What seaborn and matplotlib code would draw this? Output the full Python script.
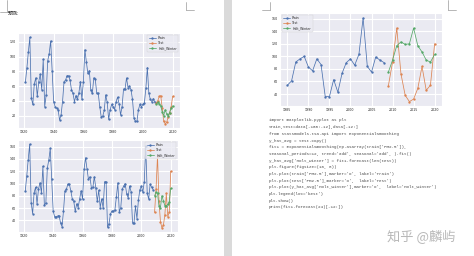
import matplotlib
matplotlib.use("Agg")
import matplotlib.pyplot as plt
import seaborn as sns
from matplotlib.lines import Line2D
from matplotlib.patches import Rectangle

# ---------------- data ----------------
years_full = list(range(1921, 2021))
years_train = years_full[:88]
years_test = years_full[88:]

top_train = [65, 84, 106, 126, 44, 35, 63, 71, 46, 66,
             76, 55, 96, 32, 48, 94, 104, 121, 81, 39,
             32, 30, 28, 14, 21, 39, 66, 68, 74, 74,
             68, 55, 50, 39, 47, 42, 51, 66, 42, 66,
             109, 93, 77, 81, 54, 50, 71, 69, 50, 50,
             32, 18, 19, 27, 48, 38, 15, 28, 35, 32,
             28, 39, 45, 36, 21, 32, 56, 56, 71, 58,
             60, 55, 42, 17, 12, 12, 28, 35, 32, 35,
             37, 57, 85, 50, 42, 39, 43, 38]
top_test = [37, 40, 46, 47, 30, 12, 9, 11, 18, 24, 32, 46]
top_hw = [35, 38, 36, 33, 25, 20, 28, 22, 20, 24, 30, 33]

bot_train = [88, 112, 139, 164, 69, 51, 85, 94, 67, 91,
             101, 85, 128, 65, 68, 125, 138, 157, 107, 55,
             46, 46, 47, 48, 36, 30, 55, 88, 91, 99,
             99, 88, 75, 71, 55, 67, 61, 75, 88, 75,
             123, 142, 124, 107, 111, 93, 94, 111, 93, 71,
             89, 61, 75, 60, 103, 103, 29, 35, 51, 55,
             55, 57, 78, 101,
             54, 61, 91, 96, 100, 83, 77, 96, 87, 36,
             36, 63, 43, 73, 90, 96, 86, 103, 161, 84,
             75, 99, 94, 90]
bot_test = [53, 91, 145, 72, 38, 28, 32, 49, 84, 46, 54, 120]
bot_hw = [80, 86, 84, 64, 61, 80, 72, 64, 64, 66, 70, 92]

zoom_years_train = years_full[64:88]
zoom_train = bot_train[64:88]
zoom_test = bot_test
zoom_hw = [75, 94, 117, 123, 119, 120, 145, 117, 107, 94, 91, 103]

series_labels = ["Train", "Test", "Holt_Winter"]
left_xticks = [1920, 1940, 1960, 1980, 2000, 2020]
right_xticks = [1985, 1990, 1995, 2000, 2005, 2010, 2015, 2020]
top_yticks = [20, 40, 60, 80, 100, 120]
bot_yticks = [40, 60, 80, 100, 120, 140, 160]
right_yticks = [40, 60, 80, 100, 120, 140, 160]

code_lines = [
    "import matplotlib.pyplot as plt",
    "train,test=data[-100:-12],data[-12:]",
    "from statsmodels.tsa.api import ExponentialSmoothing",
    "y_hat_avg = test.copy()",
    "fit1 = ExponentialSmoothing(np.asarray(train['PM2.5']),",
    "seasonal_periods=12, trend='add', seasonal='add', ).fit()",
    "y_hat_avg['Holt_Winter'] = fit1.forecast(len(test))",
    "plt.figure(figsize=(16, 8))",
    "plt.plot(train['PM2.5'],marker='o', label='Train')",
    "plt.plot(test['PM2.5'],marker='o',  label='Test')",
    "plt.plot(y_hat_avg['Holt_Winter'],marker='o',  label='Holt_Winter')",
    "plt.legend(loc='best')",
    "plt.show()",
    "print(fit1.forecast(24)[-12:])",
]

# ---------------- style ----------------
sns.set_style("darkgrid", {"grid.linewidth": 0.45})
plt.rcParams["font.family"] = ["DejaVu Sans", "Noto Sans CJK SC"]

W, H = 474, 256
fig = plt.figure(figsize=(W / 100, H / 100), dpi=100)
fig.patch.set_facecolor("white")


def ax_at(x0, y0, x1, y1):
    return fig.add_axes([x0 / W, 1 - y1 / H, (x1 - x0) / W, (y1 - y0) / H])


pal = sns.color_palette("deep")


def draw(ax, xtr, tr, xte, te, hw, loc, xticks, yticks):
    for xs, ys, lab, c in [(xtr, tr, series_labels[0], pal[0]),
                           (xte, te, series_labels[1], pal[1]),
                           (xte, hw, series_labels[2], pal[2])]:
        sns.lineplot(x=xs, y=ys, ax=ax, color=c, marker="o", markersize=1.7,
                     markeredgewidth=0, linewidth=0.55, label=lab)
    ax.set_xticks(xticks)
    ax.set_yticks(yticks)
    ax.tick_params(labelsize=2.3, pad=1.2, length=0)
    leg = ax.legend(loc=loc, fontsize=2.3, frameon=True, borderpad=0.5,
                    labelspacing=0.35, handlelength=2.2, handletextpad=0.7,
                    framealpha=0.8)
    leg.get_frame().set_linewidth(0.3)
    ax.set_xlabel("")
    ax.set_ylabel("")


ax1 = ax_at(18, 33, 180, 128)
draw(ax1, years_train, top_train, years_test, top_test, top_hw,
     "upper right", left_xticks, top_yticks)

ax2 = ax_at(18, 140, 178, 232)
draw(ax2, years_train, bot_train, years_test, bot_test, bot_hw,
     "upper right", left_xticks, bot_yticks)

ax3 = ax_at(280, 13, 442, 106)
draw(ax3, zoom_years_train, zoom_train, years_test, zoom_test, zoom_hw,
     "upper left", right_xticks, right_yticks)
ax3.set_ylim(21, 169)

# ---------------- page decoration ----------------
fig.add_artist(Rectangle((224 / W, 0), 8 / W, 1, transform=fig.transFigure,
                         facecolor="#dadada", edgecolor="none"))


def fline(xs, ys, c="#9a9a9a", lw=0.5):
    fig.add_artist(Line2D([x / W for x in xs], [1 - y / H for y in ys],
                          transform=fig.transFigure, color=c, lw=lw))


# corner marks
fline([7, 7], [0, 12]); fline([0, 7], [12, 12])
fline([186, 186], [2, 10]); fline([186, 194], [10, 10])
fline([270, 270], [2, 10]); fline([262, 270], [10, 10])
fline([448, 448], [0, 10]); fline([448, 456], [10, 10])

fig.text(8 / W, 1 - 13.5 / H, "预测:", fontsize=3.6, color="#222222",
         family=["Noto Sans CJK SC", "DejaVu Sans"], va="center", ha="left")

for i, line in enumerate(code_lines):
    fig.text(269 / W, 1 - (120.5 + 6.67 * i) / H, line, fontsize=3.1,
             family="Liberation Mono", color="#4a4a4a", va="center", ha="left")

fig.text(387 / W, 1 - 237 / H, "知乎 @麟屿", fontsize=9.5, color="#b8b8b8",
         family=["Noto Sans CJK SC", "DejaVu Sans"], va="center", ha="left")

fig.savefig("out.png", dpi=100, facecolor="white")
